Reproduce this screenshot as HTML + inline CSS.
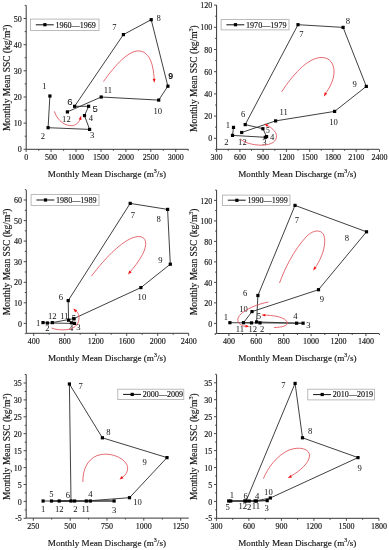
<!DOCTYPE html><html><head><meta charset="utf-8"><title>Monthly Mean SSC vs Discharge</title>
<style>html,body{margin:0;padding:0;background:#fff;overflow:hidden}svg{display:block}text{stroke:#222;stroke-width:0.16px}text.p{stroke:none}</style></head><body>
<svg width="389" height="550" viewBox="0 0 389 550" font-family="'Liberation Serif', 'Times New Roman', serif" fill="#111">
<path d="M26.2 5.5V149.3H188.4" fill="none" stroke="#383838" stroke-width="1"/>
<path d="M23.6 149.3H26.2M23.6 123.1H26.2M23.6 97H26.2M23.6 70.8H26.2M23.6 44.7H26.2M23.6 18.5H26.2M24.7 136.2H26.2M24.7 110.1H26.2M24.7 83.9H26.2M24.7 57.7H26.2M24.7 31.6H26.2M24.7 5.4H26.2M26.2 149.3V151.9M51.1 149.3V151.9M76 149.3V151.9M101 149.3V151.9M125.9 149.3V151.9M150.8 149.3V151.9M175.7 149.3V151.9M38.7 149.3V150.8M63.6 149.3V150.8M88.5 149.3V150.8M113.4 149.3V150.8M138.4 149.3V150.8M163.3 149.3V150.8M188.2 149.3V150.8" fill="none" stroke="#383838" stroke-width="0.9"/>
<text x="21.8" y="152.4" font-size="8.0" text-anchor="end">0</text>
<text x="21.8" y="126.2" font-size="8.0" text-anchor="end">10</text>
<text x="21.8" y="100.1" font-size="8.0" text-anchor="end">20</text>
<text x="21.8" y="73.9" font-size="8.0" text-anchor="end">30</text>
<text x="21.8" y="47.8" font-size="8.0" text-anchor="end">40</text>
<text x="21.8" y="21.6" font-size="8.0" text-anchor="end">50</text>
<text x="26.2" y="160.1" font-size="8.0" text-anchor="middle">0</text>
<text x="51.1" y="160.1" font-size="8.0" text-anchor="middle">500</text>
<text x="76" y="160.1" font-size="8.0" text-anchor="middle">1000</text>
<text x="101" y="160.1" font-size="8.0" text-anchor="middle">1500</text>
<text x="125.9" y="160.1" font-size="8.0" text-anchor="middle">2000</text>
<text x="150.8" y="160.1" font-size="8.0" text-anchor="middle">2500</text>
<text x="175.7" y="160.1" font-size="8.0" text-anchor="middle">3000</text>
<text x="106.9" y="176.8" font-size="9.15" text-anchor="middle">Monthly Mean Discharge (m<tspan font-size="6" dy="-3.6">3</tspan><tspan dy="3.6">/s)</tspan></text>
<text transform="translate(10.2 77.8) rotate(-90)" x="0" y="0" font-size="9.45" text-anchor="middle">Monthly Mean SSC (kg/m<tspan font-size="6" dy="-3.6">3</tspan><tspan dy="3.6">)</tspan></text>
<rect x="30.5" y="19.1" width="68.5" height="11.3" fill="#fff" stroke="#aaa" stroke-width="0.8"/>
<path d="M35.8 24.8H53.7" stroke="#111" stroke-width="1"/>
<rect x="43.3" y="23.1" width="3.2" height="3.2" fill="#000"/>
<text x="55.4" y="27.6" font-size="8.1">1960—1969</text>
<polyline points="49.9,96 48.1,127.7 89.6,129.4 84.5,115.6 88.6,106.3 74.6,106.3 123.4,34.6 151.2,19.7 167.9,86.2 158.7,100.1 101.2,97 67.4,111.9" fill="none" stroke="#2a2a2a" stroke-width="0.9"/>
<rect x="48.3" y="94.4" width="3.2" height="3.2" fill="#000"/>
<rect x="46.5" y="126.1" width="3.2" height="3.2" fill="#000"/>
<rect x="88" y="127.8" width="3.2" height="3.2" fill="#000"/>
<rect x="82.9" y="114" width="3.2" height="3.2" fill="#000"/>
<rect x="87" y="104.7" width="3.2" height="3.2" fill="#000"/>
<rect x="73" y="104.7" width="3.2" height="3.2" fill="#000"/>
<rect x="121.8" y="33" width="3.2" height="3.2" fill="#000"/>
<rect x="149.6" y="18.1" width="3.2" height="3.2" fill="#000"/>
<rect x="166.3" y="84.6" width="3.2" height="3.2" fill="#000"/>
<rect x="157.1" y="98.5" width="3.2" height="3.2" fill="#000"/>
<rect x="99.6" y="95.4" width="3.2" height="3.2" fill="#000"/>
<rect x="65.8" y="110.3" width="3.2" height="3.2" fill="#000"/>
<text class="p" x="44.4" y="89.4" font-size="8.6" text-anchor="middle">1</text>
<text class="p" x="42.8" y="139.4" font-size="8.6" text-anchor="middle">2</text>
<text class="p" x="92.1" y="138.3" font-size="8.6" text-anchor="middle">3</text>
<text class="p" x="91" y="120.8" font-size="8.6" text-anchor="middle">4</text>
<text class="p" x="95.1" y="111.9" font-size="9.6" text-anchor="middle" font-family="'Liberation Sans', Arial, sans-serif">5</text>
<text class="p" x="70" y="105.1" font-size="9.6" text-anchor="middle" font-family="'Liberation Sans', Arial, sans-serif">6</text>
<text class="p" x="114.4" y="29.7" font-size="8.6" text-anchor="middle">7</text>
<text class="p" x="158.6" y="20.7" font-size="8.6" text-anchor="middle">8</text>
<text class="p" x="170.6" y="79.1" font-size="8.8" text-anchor="middle" font-family="'Liberation Sans', Arial, sans-serif" font-weight="bold">9</text>
<text class="p" x="157.8" y="113.6" font-size="8.6" text-anchor="middle">10</text>
<text class="p" x="108" y="92.6" font-size="8.6" text-anchor="middle">11</text>
<text class="p" x="66.4" y="121.8" font-size="8.6" text-anchor="middle">12</text>
<path d="M103.4 81.6C116 64 128 51.5 137.8 50.9C146 50.5 151 58 152.8 68C153.6 72 154 76 154.2 79" fill="none" stroke="#e0505a" stroke-width="0.85"/>
<path d="M154.3 82.8L152.7 78.9L155.6 78.7Z" fill="#f01010"/>
<path d="M54.3 111.3C58 122 66 126 72.2 125.7C77 125 79.5 121 80.3 119" fill="none" stroke="#e0505a" stroke-width="0.85"/>
<path d="M81.2 115.8L81.4 120L78.7 119.2Z" fill="#f01010"/>
<path d="M216.6 5.1V149.3H379" fill="none" stroke="#383838" stroke-width="1"/>
<path d="M214 138.3H216.6M214 116.1H216.6M214 93.9H216.6M214 71.7H216.6M214 49.5H216.6M214 27.3H216.6M214 5.1H216.6M215.1 149.4H216.6M215.1 127.2H216.6M215.1 105H216.6M215.1 82.8H216.6M215.1 60.6H216.6M215.1 38.4H216.6M215.1 16.2H216.6M216.6 149.3V151.9M239.9 149.3V151.9M263.1 149.3V151.9M286.4 149.3V151.9M309.7 149.3V151.9M332.9 149.3V151.9M356.2 149.3V151.9M379.5 149.3V151.9M228.2 149.3V150.8M251.5 149.3V150.8M274.8 149.3V150.8M298 149.3V150.8M321.3 149.3V150.8M344.6 149.3V150.8M367.9 149.3V150.8" fill="none" stroke="#383838" stroke-width="0.9"/>
<text x="212.2" y="141.4" font-size="8.0" text-anchor="end">0</text>
<text x="212.2" y="119.2" font-size="8.0" text-anchor="end">20</text>
<text x="212.2" y="97" font-size="8.0" text-anchor="end">40</text>
<text x="212.2" y="74.8" font-size="8.0" text-anchor="end">60</text>
<text x="212.2" y="52.6" font-size="8.0" text-anchor="end">80</text>
<text x="212.2" y="30.4" font-size="8.0" text-anchor="end">100</text>
<text x="212.2" y="8.2" font-size="8.0" text-anchor="end">120</text>
<text x="216.6" y="160.1" font-size="8.0" text-anchor="middle">300</text>
<text x="239.9" y="160.1" font-size="8.0" text-anchor="middle">600</text>
<text x="263.1" y="160.1" font-size="8.0" text-anchor="middle">900</text>
<text x="286.4" y="160.1" font-size="8.0" text-anchor="middle">1200</text>
<text x="309.7" y="160.1" font-size="8.0" text-anchor="middle">1500</text>
<text x="332.9" y="160.1" font-size="8.0" text-anchor="middle">1800</text>
<text x="356.2" y="160.1" font-size="8.0" text-anchor="middle">2100</text>
<text x="379.5" y="160.1" font-size="8.0" text-anchor="middle">2400</text>
<text x="297.3" y="176.8" font-size="9.15" text-anchor="middle">Monthly Mean Discharge (m<tspan font-size="6" dy="-3.6">3</tspan><tspan dy="3.6">/s)</tspan></text>
<text transform="translate(196.8 78.6) rotate(-90)" x="0" y="0" font-size="9.45" text-anchor="middle">Monthly Mean SSC (kg/m<tspan font-size="6" dy="-3.6">3</tspan><tspan dy="3.6">)</tspan></text>
<rect x="221.1" y="19.6" width="67.9" height="10.3" fill="#fff" stroke="#aaa" stroke-width="0.8"/>
<path d="M226.4 24.8H244.3" stroke="#111" stroke-width="1"/>
<rect x="233.9" y="23.1" width="3.2" height="3.2" fill="#000"/>
<text x="246" y="27.6" font-size="8.1">1970—1979</text>
<polyline points="233.5,127.4 232.5,135.4 265.3,137.3 266.6,136.6 262.9,128.7 245.2,124.6 298,24.7 343.1,27.4 366.3,86.4 334.6,111.4 275.6,120.9 241.7,132.5" fill="none" stroke="#2a2a2a" stroke-width="0.9"/>
<rect x="231.9" y="125.8" width="3.2" height="3.2" fill="#000"/>
<rect x="230.9" y="133.8" width="3.2" height="3.2" fill="#000"/>
<rect x="263.7" y="135.7" width="3.2" height="3.2" fill="#000"/>
<rect x="265" y="135" width="3.2" height="3.2" fill="#000"/>
<rect x="261.3" y="127.1" width="3.2" height="3.2" fill="#000"/>
<rect x="243.6" y="123" width="3.2" height="3.2" fill="#000"/>
<rect x="296.4" y="23.1" width="3.2" height="3.2" fill="#000"/>
<rect x="341.5" y="25.8" width="3.2" height="3.2" fill="#000"/>
<rect x="364.7" y="84.8" width="3.2" height="3.2" fill="#000"/>
<rect x="333" y="109.8" width="3.2" height="3.2" fill="#000"/>
<rect x="274" y="119.3" width="3.2" height="3.2" fill="#000"/>
<rect x="240.1" y="130.9" width="3.2" height="3.2" fill="#000"/>
<text class="p" x="227.8" y="127.9" font-size="8.6" text-anchor="middle">1</text>
<text class="p" x="226.3" y="145" font-size="8.6" text-anchor="middle">2</text>
<text class="p" x="264.4" y="145.4" font-size="8.6" text-anchor="middle">3</text>
<text class="p" x="272.2" y="139.8" font-size="8.6" text-anchor="middle">4</text>
<text class="p" x="268" y="133.3" font-size="7.6" text-anchor="middle">5</text>
<text class="p" x="243.1" y="117.1" font-size="8.6" text-anchor="middle">6</text>
<text class="p" x="301.5" y="37.1" font-size="8.6" text-anchor="middle">7</text>
<text class="p" x="347.8" y="23.6" font-size="8.6" text-anchor="middle">8</text>
<text class="p" x="354.7" y="86.8" font-size="8.6" text-anchor="middle">9</text>
<text class="p" x="333.5" y="124.6" font-size="8.6" text-anchor="middle">10</text>
<text class="p" x="283.6" y="115.3" font-size="8.6" text-anchor="middle">11</text>
<text class="p" x="242.4" y="145.4" font-size="8.6" text-anchor="middle">12</text>
<path d="M281.7 91.8C292 76 307 58 321 57.5C330 57.2 334.5 64 334 73C333.5 81 329.5 88 325.6 93.3" fill="none" stroke="#e0505a" stroke-width="0.85"/>
<path d="M323.8 96.4L324.8 92.3L327.2 93.8Z" fill="#f01010"/>
<path d="M240.3 138.8C243 142 252 145.3 262 145.2C272 145 277 141 276.5 135.5C276 131 271 127.5 267.5 125.6" fill="none" stroke="#e0505a" stroke-width="0.85"/>
<path d="M264.4 123.7L268.5 124.7L267 127.1Z" fill="#f01010"/>
<path d="M26.3 190.1V333.3H188.7" fill="none" stroke="#383838" stroke-width="1"/>
<path d="M23.7 323.4H26.3M23.7 302.8H26.3M23.7 282.3H26.3M23.7 261.7H26.3M23.7 241.1H26.3M23.7 220.6H26.3M23.7 200H26.3M24.8 333.7H26.3M24.8 313.1H26.3M24.8 292.5H26.3M24.8 272H26.3M24.8 251.4H26.3M24.8 230.8H26.3M24.8 210.3H26.3M24.8 189.7H26.3M33.7 333.3V335.9M64.7 333.3V335.9M95.7 333.3V335.9M126.7 333.3V335.9M157.7 333.3V335.9M188.7 333.3V335.9M49.2 333.3V334.8M80.2 333.3V334.8M111.2 333.3V334.8M142.2 333.3V334.8M173.2 333.3V334.8" fill="none" stroke="#383838" stroke-width="0.9"/>
<text x="21.9" y="326.5" font-size="8.0" text-anchor="end">0</text>
<text x="21.9" y="305.9" font-size="8.0" text-anchor="end">10</text>
<text x="21.9" y="285.4" font-size="8.0" text-anchor="end">20</text>
<text x="21.9" y="264.8" font-size="8.0" text-anchor="end">30</text>
<text x="21.9" y="244.2" font-size="8.0" text-anchor="end">40</text>
<text x="21.9" y="223.7" font-size="8.0" text-anchor="end">50</text>
<text x="21.9" y="203.1" font-size="8.0" text-anchor="end">60</text>
<text x="33.7" y="344.1" font-size="8.0" text-anchor="middle">400</text>
<text x="64.7" y="344.1" font-size="8.0" text-anchor="middle">800</text>
<text x="95.7" y="344.1" font-size="8.0" text-anchor="middle">1200</text>
<text x="126.7" y="344.1" font-size="8.0" text-anchor="middle">1600</text>
<text x="157.7" y="344.1" font-size="8.0" text-anchor="middle">2000</text>
<text x="188.7" y="344.1" font-size="8.0" text-anchor="middle">2400</text>
<text x="107" y="361" font-size="9.15" text-anchor="middle">Monthly Mean Discharge (m<tspan font-size="6" dy="-3.6">3</tspan><tspan dy="3.6">/s)</tspan></text>
<text transform="translate(10.2 261.9) rotate(-90)" x="0" y="0" font-size="9.45" text-anchor="middle">Monthly Mean SSC (kg/m<tspan font-size="6" dy="-3.6">3</tspan><tspan dy="3.6">)</tspan></text>
<rect x="31.1" y="194.6" width="67.9" height="10.8" fill="#fff" stroke="#aaa" stroke-width="0.8"/>
<path d="M36.4 200H54.3" stroke="#111" stroke-width="1"/>
<rect x="43.9" y="198.4" width="3.2" height="3.2" fill="#000"/>
<text x="56" y="202.9" font-size="8.1">1980—1989</text>
<polyline points="43,322.6 47.4,323 74.5,323.4 71.5,322.8 68.6,320.2 68.2,300.6 130.2,203.4 167.6,209.4 170.3,264.2 140.9,287.6 73.8,318.6 52.3,322.6" fill="none" stroke="#2a2a2a" stroke-width="0.9"/>
<rect x="41.4" y="321" width="3.2" height="3.2" fill="#000"/>
<rect x="45.8" y="321.4" width="3.2" height="3.2" fill="#000"/>
<rect x="72.9" y="321.8" width="3.2" height="3.2" fill="#000"/>
<rect x="69.9" y="321.2" width="3.2" height="3.2" fill="#000"/>
<rect x="67" y="318.6" width="3.2" height="3.2" fill="#000"/>
<rect x="66.6" y="299" width="3.2" height="3.2" fill="#000"/>
<rect x="128.6" y="201.8" width="3.2" height="3.2" fill="#000"/>
<rect x="166" y="207.8" width="3.2" height="3.2" fill="#000"/>
<rect x="168.7" y="262.6" width="3.2" height="3.2" fill="#000"/>
<rect x="139.3" y="286" width="3.2" height="3.2" fill="#000"/>
<rect x="72.2" y="317" width="3.2" height="3.2" fill="#000"/>
<rect x="50.7" y="321" width="3.2" height="3.2" fill="#000"/>
<text class="p" x="38.1" y="326" font-size="8.6" text-anchor="middle">1</text>
<text class="p" x="47.4" y="331" font-size="8.6" text-anchor="middle">2</text>
<text class="p" x="78.4" y="329.8" font-size="8.6" text-anchor="middle">3</text>
<text class="p" x="71.2" y="330.7" font-size="8.6" text-anchor="middle">4</text>
<text class="p" x="73.9" y="321.3" font-size="8.6" text-anchor="middle">5</text>
<text class="p" x="61" y="300.4" font-size="8.6" text-anchor="middle">6</text>
<text class="p" x="132.9" y="217.9" font-size="8.6" text-anchor="middle">7</text>
<text class="p" x="158.6" y="222.2" font-size="8.6" text-anchor="middle">8</text>
<text class="p" x="160.3" y="263" font-size="8.6" text-anchor="middle">9</text>
<text class="p" x="141.9" y="300.4" font-size="8.6" text-anchor="middle">10</text>
<text class="p" x="64.5" y="318.6" font-size="8.6" text-anchor="middle">11</text>
<text class="p" x="52.3" y="318.8" font-size="8.6" text-anchor="middle">12</text>
<path d="M91.4 276.2C105 258 125 237 138.5 236.5C147 236.3 147.5 245 142.5 254.5C138.5 262 133.5 268 130.2 271.8" fill="none" stroke="#e0505a" stroke-width="0.85"/>
<path d="M128.1 274.6L129.3 270.5L131.7 272.3Z" fill="#f01010"/>
<path d="M51.5 328C56 330 63 330.3 68 329.5C74 328.5 78.5 325 79 319C79.3 314 77 311.5 75.6 310.4" fill="none" stroke="#e0505a" stroke-width="0.85"/>
<path d="M73.3 308.5L77.2 310.3L75.1 312.4Z" fill="#f01010"/>
<path d="M216.6 190.1V333.5H379" fill="none" stroke="#383838" stroke-width="1"/>
<path d="M214 323.4H216.6M214 302.9H216.6M214 282.4H216.6M214 261.9H216.6M214 241.4H216.6M214 220.9H216.6M214 200.4H216.6M215.1 333.6H216.6M215.1 313.1H216.6M215.1 292.6H216.6M215.1 272.1H216.6M215.1 251.6H216.6M215.1 231.1H216.6M215.1 210.6H216.6M215.1 190.1H216.6M228.9 333.5V336.1M256.3 333.5V336.1M283.7 333.5V336.1M311.1 333.5V336.1M338.5 333.5V336.1M365.9 333.5V336.1M215.2 333.5V335M242.6 333.5V335M270 333.5V335M297.4 333.5V335M324.8 333.5V335M352.2 333.5V335M379.6 333.5V335" fill="none" stroke="#383838" stroke-width="0.9"/>
<text x="212.2" y="326.5" font-size="8.0" text-anchor="end">0</text>
<text x="212.2" y="306" font-size="8.0" text-anchor="end">20</text>
<text x="212.2" y="285.5" font-size="8.0" text-anchor="end">40</text>
<text x="212.2" y="265" font-size="8.0" text-anchor="end">60</text>
<text x="212.2" y="244.5" font-size="8.0" text-anchor="end">80</text>
<text x="212.2" y="224" font-size="8.0" text-anchor="end">100</text>
<text x="212.2" y="203.5" font-size="8.0" text-anchor="end">120</text>
<text x="228.9" y="344.3" font-size="8.0" text-anchor="middle">400</text>
<text x="256.3" y="344.3" font-size="8.0" text-anchor="middle">600</text>
<text x="283.7" y="344.3" font-size="8.0" text-anchor="middle">800</text>
<text x="311.1" y="344.3" font-size="8.0" text-anchor="middle">1000</text>
<text x="338.5" y="344.3" font-size="8.0" text-anchor="middle">1200</text>
<text x="365.9" y="344.3" font-size="8.0" text-anchor="middle">1400</text>
<text x="297.4" y="361" font-size="9.15" text-anchor="middle">Monthly Mean Discharge (m<tspan font-size="6" dy="-3.6">3</tspan><tspan dy="3.6">/s)</tspan></text>
<text transform="translate(196.8 261.9) rotate(-90)" x="0" y="0" font-size="9.45" text-anchor="middle">Monthly Mean SSC (kg/m<tspan font-size="6" dy="-3.6">3</tspan><tspan dy="3.6">)</tspan></text>
<rect x="222.5" y="195.1" width="67.5" height="10.3" fill="#fff" stroke="#aaa" stroke-width="0.8"/>
<path d="M227.8 200.2H245.7" stroke="#111" stroke-width="1"/>
<rect x="235.3" y="198.7" width="3.2" height="3.2" fill="#000"/>
<text x="247.4" y="203.2" font-size="8.1">1990—1999</text>
<polyline points="229.9,322.7 260,322.9 303.1,323.2 296.6,323.2 256.6,321.9 257.9,295.5 295,205.4 366.5,231.8 318.5,289.7 252,311.6 243.5,322.7 251.5,322.9" fill="none" stroke="#2a2a2a" stroke-width="0.9"/>
<rect x="228.3" y="321.1" width="3.2" height="3.2" fill="#000"/>
<rect x="258.4" y="321.3" width="3.2" height="3.2" fill="#000"/>
<rect x="301.5" y="321.6" width="3.2" height="3.2" fill="#000"/>
<rect x="295" y="321.6" width="3.2" height="3.2" fill="#000"/>
<rect x="255" y="320.3" width="3.2" height="3.2" fill="#000"/>
<rect x="256.3" y="293.9" width="3.2" height="3.2" fill="#000"/>
<rect x="293.4" y="203.8" width="3.2" height="3.2" fill="#000"/>
<rect x="364.9" y="230.2" width="3.2" height="3.2" fill="#000"/>
<rect x="316.9" y="288.1" width="3.2" height="3.2" fill="#000"/>
<rect x="250.4" y="310" width="3.2" height="3.2" fill="#000"/>
<rect x="241.9" y="321.1" width="3.2" height="3.2" fill="#000"/>
<rect x="249.9" y="321.3" width="3.2" height="3.2" fill="#000"/>
<text class="p" x="226" y="320.4" font-size="8.6" text-anchor="middle">1</text>
<text class="p" x="262.1" y="331.5" font-size="8.6" text-anchor="middle">2</text>
<text class="p" x="308.3" y="327.5" font-size="8.6" text-anchor="middle">3</text>
<text class="p" x="295.4" y="319.2" font-size="8.6" text-anchor="middle">4</text>
<text class="p" x="259" y="319.2" font-size="8.6" text-anchor="middle">5</text>
<text class="p" x="245.1" y="295.8" font-size="8.6" text-anchor="middle">6</text>
<text class="p" x="296.8" y="222.9" font-size="8.6" text-anchor="middle">7</text>
<text class="p" x="346.9" y="240.6" font-size="8.6" text-anchor="middle">8</text>
<text class="p" x="321.8" y="302.1" font-size="8.6" text-anchor="middle">9</text>
<text class="p" x="243.6" y="312.1" font-size="8.6" text-anchor="middle">10</text>
<text class="p" x="239.9" y="332.2" font-size="8.6" text-anchor="middle">11</text>
<text class="p" x="252.8" y="332.2" font-size="8.6" text-anchor="middle">12</text>
<path d="M279.5 283C285 268 294 250 306 237C311.5 231 318 229.5 322 232.5C326 236 325.5 246 321.5 256C319.5 261 317 265 315.2 267.8" fill="none" stroke="#e0505a" stroke-width="0.85"/>
<path d="M313.2 270.6L314.2 266.5L316.6 268Z" fill="#f01010"/>
<path d="M268.4 302C258 304 245 309 239.5 315.5C236 320 238 325 245 326.3" fill="none" stroke="#e0505a" stroke-width="0.85"/>
<path d="M249.4 326.6L245.3 327.6L245.6 324.8Z" fill="#f01010"/>
<path d="M273.9 327.6C282 327.2 287.5 326 287.3 323C287 319 280 315.8 265.5 315.1" fill="none" stroke="#e0505a" stroke-width="0.85"/>
<path d="M261.4 315L265.4 313.7L265.4 316.6Z" fill="#f01010"/>
<path d="M26.2 374.5V518.1H188.7" fill="none" stroke="#383838" stroke-width="1"/>
<path d="M23.6 518.3H26.2M23.6 501.4H26.2M23.6 484.5H26.2M23.6 467.6H26.2M23.6 450.7H26.2M23.6 433.7H26.2M23.6 416.8H26.2M23.6 399.9H26.2M23.6 383H26.2M24.7 509.9H26.2M24.7 492.9H26.2M24.7 476H26.2M24.7 459.1H26.2M24.7 442.2H26.2M24.7 425.3H26.2M24.7 408.4H26.2M24.7 391.5H26.2M24.7 374.5H26.2M33.3 518.1V520.7M70.2 518.1V520.7M107 518.1V520.7M143.8 518.1V520.7M180.7 518.1V520.7M51.7 518.1V519.6M88.6 518.1V519.6M125.4 518.1V519.6M162.3 518.1V519.6" fill="none" stroke="#383838" stroke-width="0.9"/>
<text x="21.8" y="521.4" font-size="8.0" text-anchor="end">-5</text>
<text x="21.8" y="504.5" font-size="8.0" text-anchor="end">0</text>
<text x="21.8" y="487.6" font-size="8.0" text-anchor="end">5</text>
<text x="21.8" y="470.7" font-size="8.0" text-anchor="end">10</text>
<text x="21.8" y="453.8" font-size="8.0" text-anchor="end">15</text>
<text x="21.8" y="436.8" font-size="8.0" text-anchor="end">20</text>
<text x="21.8" y="419.9" font-size="8.0" text-anchor="end">25</text>
<text x="21.8" y="403" font-size="8.0" text-anchor="end">30</text>
<text x="21.8" y="386.1" font-size="8.0" text-anchor="end">35</text>
<text x="33.3" y="528.9" font-size="8.0" text-anchor="middle">250</text>
<text x="70.2" y="528.9" font-size="8.0" text-anchor="middle">500</text>
<text x="107" y="528.9" font-size="8.0" text-anchor="middle">750</text>
<text x="143.8" y="528.9" font-size="8.0" text-anchor="middle">1000</text>
<text x="180.7" y="528.9" font-size="8.0" text-anchor="middle">1250</text>
<text x="106.9" y="545.7" font-size="9.15" text-anchor="middle">Monthly Mean Discharge (m<tspan font-size="6" dy="-3.6">3</tspan><tspan dy="3.6">/s)</tspan></text>
<text transform="translate(10.2 446.7) rotate(-90)" x="0" y="0" font-size="9.45" text-anchor="middle">Monthly Mean SSC (kg/m<tspan font-size="6" dy="-3.6">3</tspan><tspan dy="3.6">)</tspan></text>
<rect x="117.8" y="389.2" width="66" height="10.4" fill="#fff" stroke="#aaa" stroke-width="0.8"/>
<path d="M123.1 394.4H141" stroke="#111" stroke-width="1"/>
<rect x="130.6" y="392.8" width="3.2" height="3.2" fill="#000"/>
<text x="142.7" y="397.3" font-size="8.1">2000—2009</text>
<polyline points="43.1,501 74.6,501 114.1,501 90.3,501 51.5,501 71,501 69.4,384 102.4,437.8 167,457.6 129.5,497.7 86.3,501 59.2,501" fill="none" stroke="#2a2a2a" stroke-width="0.9"/>
<rect x="41.5" y="499.4" width="3.2" height="3.2" fill="#000"/>
<rect x="73" y="499.4" width="3.2" height="3.2" fill="#000"/>
<rect x="112.5" y="499.4" width="3.2" height="3.2" fill="#000"/>
<rect x="88.7" y="499.4" width="3.2" height="3.2" fill="#000"/>
<rect x="49.9" y="499.4" width="3.2" height="3.2" fill="#000"/>
<rect x="69.4" y="499.4" width="3.2" height="3.2" fill="#000"/>
<rect x="67.8" y="382.4" width="3.2" height="3.2" fill="#000"/>
<rect x="100.8" y="436.2" width="3.2" height="3.2" fill="#000"/>
<rect x="165.4" y="456" width="3.2" height="3.2" fill="#000"/>
<rect x="127.9" y="496.1" width="3.2" height="3.2" fill="#000"/>
<rect x="84.7" y="499.4" width="3.2" height="3.2" fill="#000"/>
<rect x="57.6" y="499.4" width="3.2" height="3.2" fill="#000"/>
<text class="p" x="43.1" y="512.1" font-size="8.6" text-anchor="middle">1</text>
<text class="p" x="75.5" y="511.5" font-size="8.6" text-anchor="middle">2</text>
<text class="p" x="114.1" y="513" font-size="8.6" text-anchor="middle">3</text>
<text class="p" x="90.3" y="496.7" font-size="8.6" text-anchor="middle">4</text>
<text class="p" x="51.5" y="496.7" font-size="8.6" text-anchor="middle">5</text>
<text class="p" x="67.8" y="497.6" font-size="8.6" text-anchor="middle">6</text>
<text class="p" x="80.7" y="388.5" font-size="8.6" text-anchor="middle">7</text>
<text class="p" x="108.5" y="435.3" font-size="8.6" text-anchor="middle">8</text>
<text class="p" x="144.6" y="464.7" font-size="8.6" text-anchor="middle">9</text>
<text class="p" x="137.5" y="505.3" font-size="8.6" text-anchor="middle">10</text>
<text class="p" x="85.7" y="511.5" font-size="8.6" text-anchor="middle">11</text>
<text class="p" x="59.2" y="512.1" font-size="8.6" text-anchor="middle">12</text>
<path d="M82.9 482C82.6 471 86.5 460 97 455.6C108 451.5 122.5 456.5 126.8 464.5C129.2 470 126 475 122.3 477.3" fill="none" stroke="#e0505a" stroke-width="0.85"/>
<path d="M119.5 479.6L121.7 475.9L123.5 478.2Z" fill="#f01010"/>
<path d="M216.6 374.5V518.3H379" fill="none" stroke="#383838" stroke-width="1"/>
<path d="M214 518.3H216.6M214 501.4H216.6M214 484.5H216.6M214 467.5H216.6M214 450.6H216.6M214 433.6H216.6M214 416.7H216.6M214 399.7H216.6M214 382.8H216.6M215.1 509.9H216.6M215.1 492.9H216.6M215.1 476H216.6M215.1 459H216.6M215.1 442.1H216.6M215.1 425.2H216.6M215.1 408.2H216.6M215.1 391.3H216.6M215.1 374.3H216.6M216.4 518.3V520.9M248.9 518.3V520.9M281.4 518.3V520.9M313.9 518.3V520.9M346.4 518.3V520.9M378.9 518.3V520.9M232.7 518.3V519.8M265.1 518.3V519.8M297.6 518.3V519.8M330.1 518.3V519.8M362.6 518.3V519.8" fill="none" stroke="#383838" stroke-width="0.9"/>
<text x="212.2" y="521.4" font-size="8.0" text-anchor="end">-5</text>
<text x="212.2" y="504.5" font-size="8.0" text-anchor="end">0</text>
<text x="212.2" y="487.6" font-size="8.0" text-anchor="end">5</text>
<text x="212.2" y="470.6" font-size="8.0" text-anchor="end">10</text>
<text x="212.2" y="453.7" font-size="8.0" text-anchor="end">15</text>
<text x="212.2" y="436.7" font-size="8.0" text-anchor="end">20</text>
<text x="212.2" y="419.8" font-size="8.0" text-anchor="end">25</text>
<text x="212.2" y="402.8" font-size="8.0" text-anchor="end">30</text>
<text x="212.2" y="385.9" font-size="8.0" text-anchor="end">35</text>
<text x="216.4" y="529.1" font-size="8.0" text-anchor="middle">300</text>
<text x="248.9" y="529.1" font-size="8.0" text-anchor="middle">600</text>
<text x="281.4" y="529.1" font-size="8.0" text-anchor="middle">900</text>
<text x="313.9" y="529.1" font-size="8.0" text-anchor="middle">1200</text>
<text x="346.4" y="529.1" font-size="8.0" text-anchor="middle">1500</text>
<text x="378.9" y="529.1" font-size="8.0" text-anchor="middle">1800</text>
<text x="297.3" y="545.8" font-size="9.15" text-anchor="middle">Monthly Mean Discharge (m<tspan font-size="6" dy="-3.6">3</tspan><tspan dy="3.6">/s)</tspan></text>
<text transform="translate(196.8 446.7) rotate(-90)" x="0" y="0" font-size="9.45" text-anchor="middle">Monthly Mean SSC (kg/m<tspan font-size="6" dy="-3.6">3</tspan><tspan dy="3.6">)</tspan></text>
<rect x="307.8" y="389.2" width="66.6" height="10.7" fill="#fff" stroke="#aaa" stroke-width="0.8"/>
<path d="M313.1 394.6H331" stroke="#111" stroke-width="1"/>
<rect x="320.6" y="392.9" width="3.2" height="3.2" fill="#000"/>
<text x="332.7" y="397.4" font-size="8.1">2010—2019</text>
<polyline points="230.7,501 249.2,501 267.2,500.6 256.4,501 228.7,501 246.1,501 295.1,383.4 302.5,437.8 358,457.6 270.3,498 255.1,501 244.8,501" fill="none" stroke="#2a2a2a" stroke-width="0.9"/>
<rect x="229.1" y="499.4" width="3.2" height="3.2" fill="#000"/>
<rect x="247.6" y="499.4" width="3.2" height="3.2" fill="#000"/>
<rect x="265.6" y="499" width="3.2" height="3.2" fill="#000"/>
<rect x="254.8" y="499.4" width="3.2" height="3.2" fill="#000"/>
<rect x="227.1" y="499.4" width="3.2" height="3.2" fill="#000"/>
<rect x="244.5" y="499.4" width="3.2" height="3.2" fill="#000"/>
<rect x="293.5" y="381.8" width="3.2" height="3.2" fill="#000"/>
<rect x="300.9" y="436.2" width="3.2" height="3.2" fill="#000"/>
<rect x="356.4" y="456" width="3.2" height="3.2" fill="#000"/>
<rect x="268.7" y="496.4" width="3.2" height="3.2" fill="#000"/>
<rect x="253.5" y="499.4" width="3.2" height="3.2" fill="#000"/>
<rect x="243.2" y="499.4" width="3.2" height="3.2" fill="#000"/>
<text class="p" x="232" y="498.2" font-size="8.6" text-anchor="middle">1</text>
<text class="p" x="249.2" y="510.3" font-size="8.6" text-anchor="middle">2</text>
<text class="p" x="266.7" y="510.6" font-size="8.6" text-anchor="middle">3</text>
<text class="p" x="257.2" y="498.8" font-size="8.6" text-anchor="middle">4</text>
<text class="p" x="227.6" y="509.8" font-size="8.6" text-anchor="middle">5</text>
<text class="p" x="245.6" y="498.8" font-size="8.6" text-anchor="middle">6</text>
<text class="p" x="283.4" y="387.8" font-size="8.6" text-anchor="middle">7</text>
<text class="p" x="310.1" y="433.9" font-size="8.6" text-anchor="middle">8</text>
<text class="p" x="359.6" y="470.7" font-size="8.6" text-anchor="middle">9</text>
<text class="p" x="268.4" y="494.8" font-size="8.6" text-anchor="middle">10</text>
<text class="p" x="255.9" y="509" font-size="8.6" text-anchor="middle">11</text>
<text class="p" x="242.8" y="509" font-size="8.6" text-anchor="middle">12</text>
<path d="M263.4 478.6C268 468 276 456 289 450C300 446 310 449 309.5 456C309 463 300 471 291 476" fill="none" stroke="#e0505a" stroke-width="0.85"/>
<path d="M287.8 478L290.7 474.9L292 477.5Z" fill="#f01010"/>
</svg></body></html>
